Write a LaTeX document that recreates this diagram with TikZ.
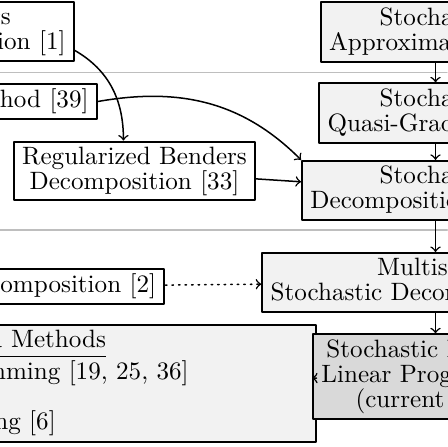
\documentclass[tikz,border=0pt]{standalone}
\definecolor{sdgray}{RGB}{242,242,242}
\definecolor{curgray}{RGB}{217,217,217}
\definecolor{sepgray}{RGB}{190,190,190}
\begin{document}
\begin{tikzpicture}[font=\fontsize{10}{10}\selectfont, line join=round, line cap=round, >=to, x=0.3984pt, y=0.3984pt,
  box/.style={draw, thick, fill=white, align=center, inner xsep=3.33pt, inner ysep=2pt},
  sdbox/.style={box, fill=sdgray},
  sep/.style={sepgray}]
\useasboundingbox (0,-447) rectangle (447,0);
% separators between the stages
\draw[sep, line width=0.4pt] (0,-73)--(447,-73);
\draw[sep, line width=1pt] (0,-230)--(447,-230);
% left column
\node[box] (ben) at (-33,-31.5) {Benders\\Decomposition [1]};
\node[box] (lsm) at (-34,-101.5) {L-Shaped Method [39]};
\node[box] (reg) at (134.5,-171) {Regularized Benders\\Decomposition [33]};
\node[box] (nest) at (16,-286.5) {Nested Decomposition [2]};
\node[box, fill=sdgray, minimum width=326.3pt, minimum height=45pt] (prev) at (-94,-383.5)
  {\begin{tabular}{@{}l@{}}
   \multicolumn{1}{@{}c@{}}{\underline{Multistage Sampling-based Methods}}\\[2pt]
   Stochastic Dual Dynamic Programming [19, 25, 36]\\[9.5pt]
   Cutting Plane and Partial Sampling [6]
   \end{tabular}};
% right column
\node[sdbox] (apx) at (435.5,-32) {Stochastic\\Approximation [31]};
\node[sdbox] (sqg) at (435.5,-113) {Stochastic\\Quasi-Gradient [11]};
\node[sdbox] (sd) at (435.5,-190.5) {Stochastic\\Decomposition [20, 21]};
\node[sdbox] (msd) at (435.5,-282.5) {Multistage\\Stochastic Decomposition [34]};
\node[box, fill=curgray] (cur) at (435.5,-376.5) {Stochastic Dynamic\\Linear Programming\\(current work)};
% connectors
\begin{scope}[semithick]
\foreach \a/\b in {apx/sqg, sqg/sd, sd/msd, msd/cur, reg/sd, prev/cur}{\draw[->] (\a)--(\b);}
\draw[->] (ben.-10) to[out=-30, in=90] (reg.110);
\draw[->] (lsm.east) to[out=10, in=135] (sd.north west);
\draw[->, dotted] (nest)--(msd);
\end{scope}
\end{tikzpicture}
\end{document}
